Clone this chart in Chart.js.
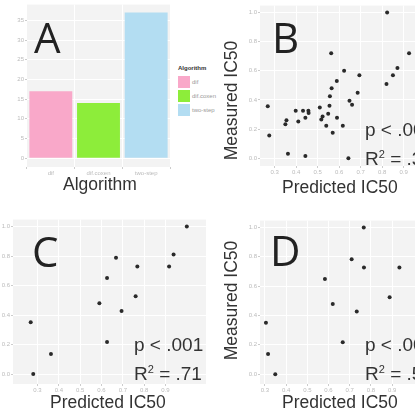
<!DOCTYPE html>
<html>
<head>
<meta charset="utf-8">
<script src="https://cdn.jsdelivr.net/npm/chart.js@4"></script>
<style>
body{margin:0;width:415px;height:415px;overflow:hidden;background:#fff;font-family:"Liberation Sans",Arial,sans-serif;position:relative}
canvas{position:absolute}
.t{position:absolute;white-space:nowrap;color:#333}
.big{font-size:42px;color:#222;font-family:"Open Sans",sans-serif}
.ax{font-size:17.5px;color:#333}
.st{font-size:19px;color:#333;line-height:24px}
.lg{position:absolute;width:12px;height:12px}
.ll{position:absolute;font-size:6px;color:#999}
</style>
</head>
<body>
<canvas id="grafA" style="left:0;top:0;width:172px;height:180px"></canvas>
<canvas id="grafB" style="left:235px;top:1px;width:200px;height:177px"></canvas>
<canvas id="grafC" style="left:0;top:215px;width:210px;height:181px"></canvas>
<canvas id="grafD" style="left:235px;top:216px;width:200px;height:180px"></canvas>

<div class="t big" style="left:34px;top:8px">A</div>
<div class="t big" style="left:272px;top:8px">B</div>
<div class="t big" style="left:32px;top:222px">C</div>
<div class="t big" style="left:270px;top:221px">D</div>

<div class="t ax" style="left:63px;top:174px">Algorithm</div>
<div class="t ax" style="left:282px;top:177px">Predicted IC50</div>
<div class="t ax" style="left:50px;top:392px">Predicted IC50</div>
<div class="t ax" style="left:282px;top:392px">Predicted IC50</div>
<div class="t ax" style="left:172px;top:90px;transform:rotate(-90deg)">Measured IC50</div>
<div class="t ax" style="left:172px;top:290px;transform:rotate(-90deg)">Measured IC50</div>
<div class="t ax" style="left:-50px;top:50px;transform:rotate(-90deg)">Counts</div>

<div class="t st" style="left:365px;top:118px">p &lt; .001<br>R<sup style="font-size:11px">2</sup> = .39</div>
<div class="t st" style="left:134px;top:333px">p &lt; .001<br>R<sup style="font-size:11px">2</sup> = .71</div>
<div class="t st" style="left:365px;top:333px">p &lt; .001<br>R<sup style="font-size:11px">2</sup> = .52</div>

<div class="t" style="left:178px;top:65px;font-size:6px;font-weight:bold">Algorithm</div>
<div class="lg" style="left:178px;top:76px;background:#f9a8c9"></div>
<div class="lg" style="left:178px;top:90px;background:#8ded3a"></div>
<div class="lg" style="left:178px;top:104px;background:#b3ddf2"></div>
<div class="ll" style="left:192px;top:79px">dif</div>
<div class="ll" style="left:192px;top:93px">dif.coxen</div>
<div class="ll" style="left:192px;top:107px">two-step</div>

<script>
// dados do grafico A
var algoritmos = ['dif', 'dif.coxen', 'two-step'];
var contagens = [17, 14, 37];
var coresBarras = ['#f9a8c9', '#8ded3a', '#b3ddf2'];
var ticksContagem = [0, 5, 10, 15, 20, 25, 30, 35];

// dados dos graficos B, C, D (previsto, medido)
var previstoB = [0.823,0.563,0.925,0.623,0.871,0.694,0.85,0.589,0.82,0.565,0.686,0.557,0.648,0.66,0.268,0.555,0.51,0.398,0.432,0.457,0.458,0.549,0.523,0.517,0.443,0.59,0.355,0.41,0.35,0.54,0.617,0.57,0.275,0.362,0.443,0.643];
var medidoB = [1.0,0.72,0.72,0.60,0.62,0.57,0.57,0.53,0.51,0.48,0.45,0.425,0.395,0.366,0.357,0.36,0.348,0.325,0.325,0.325,0.31,0.305,0.286,0.266,0.277,0.277,0.26,0.252,0.232,0.223,0.223,0.175,0.155,0.03,0.014,0.0];
var previstoC = [1.0,0.938,0.668,0.768,0.917,0.626,0.59,0.76,0.694,0.268,0.363,0.28,0.626];
var medidoC = [1.0,0.81,0.788,0.73,0.73,0.652,0.48,0.527,0.427,0.351,0.136,0.0,0.218];
var previstoD = [0.766,0.709,0.767,0.934,0.583,0.888,0.62,0.733,0.305,0.667,0.315,0.349];
var medidoD = [1.0,0.783,0.727,0.727,0.648,0.525,0.478,0.428,0.35,0.217,0.137,0.0];
var ticksIC50 = [0, 0.2, 0.4, 0.6, 0.8, 1.0];
var ticksPrevisto = [0.3, 0.4, 0.5, 0.6, 0.7, 0.8, 0.9];

var fundo = {
    id: 'fundo',
    beforeDraw: function (c) {
        var a = c.chartArea;
        c.ctx.save();
        c.ctx.fillStyle = '#f3f3f3';
        c.ctx.fillRect(a.left, a.top, a.right - a.left, a.bottom - a.top);
        c.ctx.restore();
    }
};

function eixo(largura, altura, min, max, lista) {
    return {
        min: min, max: max,
        grid: { color: '#ffffff', lineWidth: 1, tickColor: '#cccccc', tickLength: 2 },
        border: { display: false },
        ticks: { color: '#bbbbbb', font: { size: 6 }, padding: 1, autoSkip: false,
            callback: function (v) { return lista ? Number(v).toFixed(1) : v; } },
        afterBuildTicks: function (s) { if (lista) s.ticks = lista.map(function (v) { return { value: v }; }); },
        afterFit: function (s) { if (largura) s.width = largura; if (altura) s.height = altura; }
    };
}

var eixoContagem = eixo(27, null, -2.25, 39, null);
eixoContagem.afterBuildTicks = function (s) { s.ticks = ticksContagem.map(function (v) { return { value: v }; }); };

new Chart(document.getElementById('grafA'), {
    type: 'bar',
    data: { labels: algoritmos, datasets: [{ data: contagens, backgroundColor: coresBarras, barPercentage: 0.9, categoryPercentage: 1 }] },
    options: {
        responsive: false, animation: false, devicePixelRatio: 1,
        layout: { padding: { top: 2, right: 2 } },
        plugins: { legend: { display: false }, tooltip: { enabled: false } },
        scales: {
            x: { grid: { color: '#ffffff', tickColor: '#cccccc', tickLength: 2 }, border: { display: false },
                 ticks: { color: '#bbbbbb', font: { size: 6 }, padding: 1 },
                 afterFit: function (s) { s.height = 13; } },
            y: eixoContagem
        }
    },
    plugins: [fundo]
});

function dispersao(id, px, py, xmin, xmax, ymin, ymax, larguraY) {
    var pontos = px.map(function (v, i) { return { x: v, y: py[i] }; });
    new Chart(document.getElementById(id), {
        type: 'scatter',
        data: { datasets: [{ data: pontos, backgroundColor: '#2a2a2a', borderWidth: 0, pointRadius: 2 }] },
        options: {
            responsive: false, animation: false, devicePixelRatio: 1,
            layout: { padding: { top: 2, right: 0 } },
            plugins: { legend: { display: false }, tooltip: { enabled: false } },
            scales: {
                x: eixo(null, 12, xmin, xmax, ticksPrevisto),
                y: eixo(larguraY, null, ymin, ymax, ticksIC50)
            }
        },
        plugins: [fundo]
    });
}

dispersao('grafB', previstoB, medidoB, 0.232, 1.027, -0.054, 1.048, 25);
dispersao('grafC', previstoC, medidoC, 0.185, 1.09, -0.067, 1.047, 13);
dispersao('grafD', previstoD, medidoD, 0.277, 1.083, -0.067, 1.047, 25);
</script>
</body>
</html>
